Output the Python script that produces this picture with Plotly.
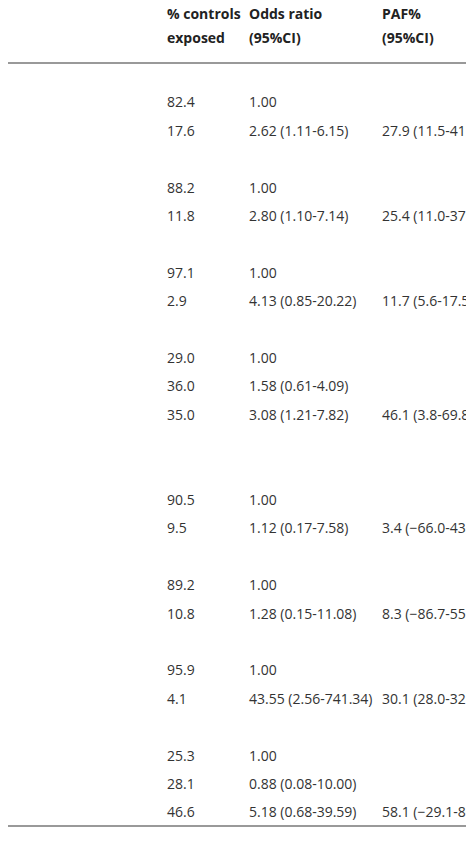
import plotly.graph_objects as go

labels = ["Males", "Substance use disorder", "No", "Yes", "Affective disorder", "No", "Yes",
          "Anxiety disorder", "No", "Yes", "Socio-economic status", "High", "Mid", "Low",
          "Females", "Substance use disorder", "No", "Yes", "Affective disorder", "No", "Yes",
          "Anxiety disorder", "No", "Yes", "Socio-economic status", "High", "Mid", "Low"]
exposed = ["", "", "82.4", "17.6", "", "88.2", "11.8", "", "97.1", "2.9", "", "29.0", "36.0", "35.0",
           "", "", "90.5", "9.5", "", "89.2", "10.8", "", "95.9", "4.1", "", "25.3", "28.1", "46.6"]
odds = ["", "", "1.00", "2.62 (1.11-6.15)", "", "1.00", "2.80 (1.10-7.14)", "", "1.00",
        "4.13 (0.85-20.22)", "", "1.00", "1.58 (0.61-4.09)", "3.08 (1.21-7.82)",
        "", "", "1.00", "1.12 (0.17-7.58)", "", "1.00", "1.28 (0.15-11.08)", "", "1.00",
        "43.55 (2.56-741.34)", "", "1.00", "0.88 (0.08-10.00)", "5.18 (0.68-39.59)"]
paf = ["", "", "", "27.9 (11.5-41.2)", "", "", "25.4 (11.0-37.4)", "", "", "11.7 (5.6-17.5)",
       "", "", "", "46.1 (3.8-69.8)", "", "", "", "3.4 (\u221266.0-43.8)", "", "",
       "8.3 (\u221286.7-55.0)", "", "", "30.1 (28.0-32.0)", "", "", "", "58.1 (\u221229.1-86.4)"]
headers = [["% controls", "exposed"], ["Odds ratio", "(95%CI)"], ["PAF%", "(95%CI)"]]
footer = "OR = 1.00 (Referent group)."

font = dict(family="Open Sans", size=14, color="#333")
col_x = [2, 167, 249, 382]
row0, step = 47, 28.4
ys = [row0 + i * step for i in range(len(labels))]

fig = go.Figure()
for x, col in zip(col_x, [labels, exposed, odds, paf]):
    fig.add_trace(go.Scatter(x=[x] * len(col), y=ys, text=col, mode="text",
                             textposition="middle right", textfont=font,
                             hoverinfo="skip", showlegend=False, cliponaxis=False))

bold = dict(family="Open Sans", size=14, color="#222", weight="bold")
for x, h in zip(col_x[1:], headers):
    fig.add_trace(go.Scatter(x=[x, x], y=[15, 39], text=h, mode="text",
                             textposition="middle right", textfont=bold,
                             hoverinfo="skip", showlegend=False, cliponaxis=False))
fig.add_trace(go.Scatter(x=[2], y=[841], text=[footer], mode="text",
                         textposition="middle right", textfont=font,
                         hoverinfo="skip", showlegend=False, cliponaxis=False))

for y in [63, 826]:
    fig.add_shape(type="line", x0=0, x1=474, y0=y, y1=y, line=dict(color="#777", width=1.5))

# page has an 8px body margin, so shift the view to compensate
fig.update_layout(width=474, height=852, margin=dict(l=0, r=0, t=0, b=0),
                  plot_bgcolor="white", paper_bgcolor="white",
                  xaxis=dict(range=[8, 482], visible=False, fixedrange=True),
                  yaxis=dict(range=[860, 8], visible=False, fixedrange=True))
fig.write_html("out.html")
